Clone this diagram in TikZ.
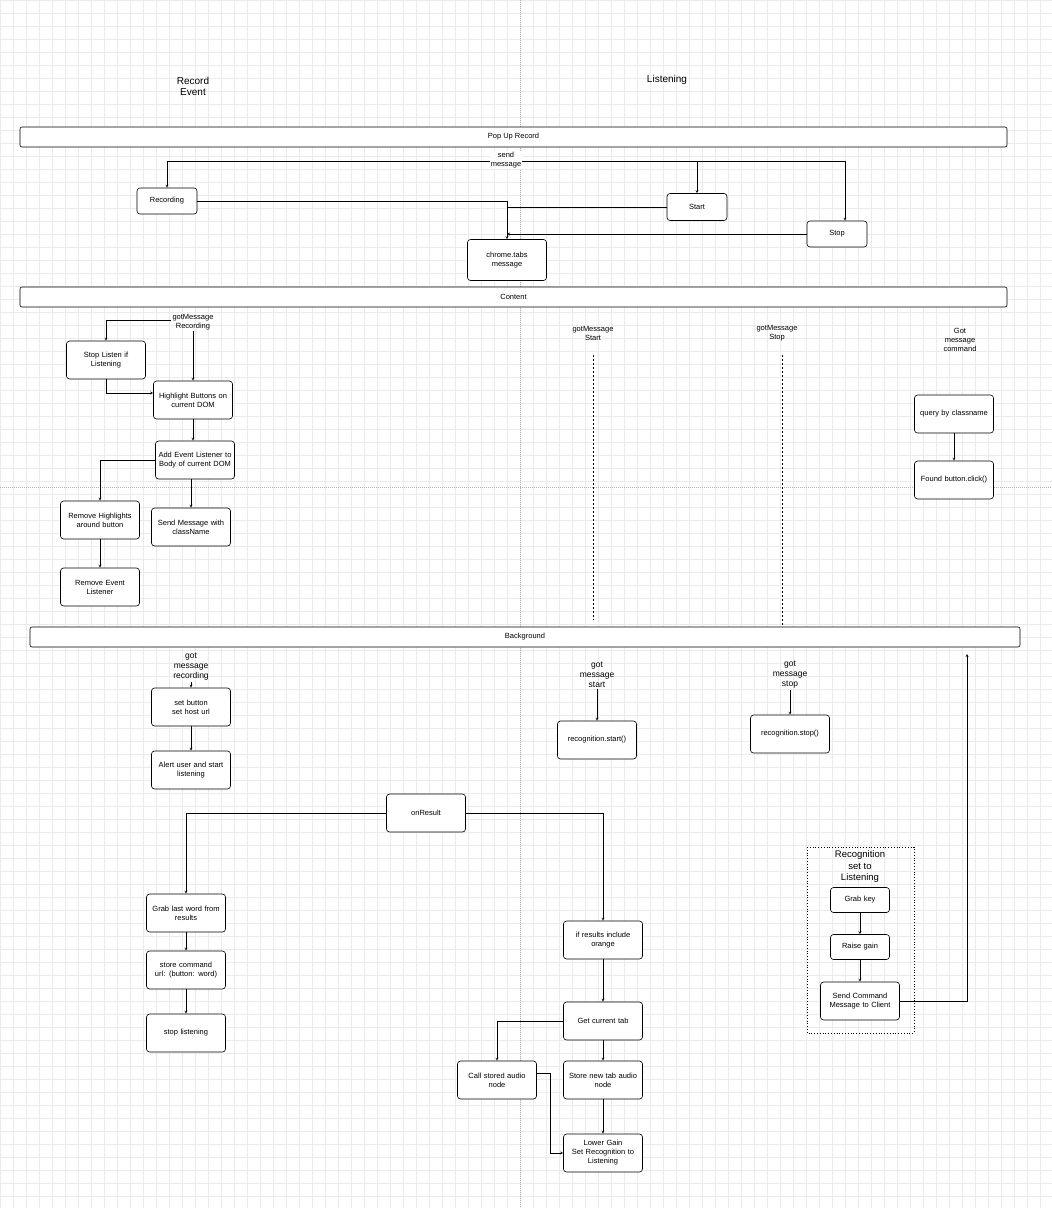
\documentclass[tikz,border=0pt]{standalone}
\usepackage{fontspec}
\setmainfont{Liberation Sans}
\usetikzlibrary{arrows}

\begin{document}
\begin{tikzpicture}[x = 1pt, y = -1pt, >=stealth, font=\fontsize{7.5}{9}\selectfont,
    box/.style = {draw, fill = white, rounded corners = 3pt, line width = 0.6pt, align = center, minimum width = 79pt, minimum height = 38pt, text width = 77pt, inner sep = 1pt},
    bar/.style = {draw, fill = white, rounded corners = 2pt, line width = 0.6pt, minimum height = 20pt, inner sep = 0pt},
    lbl/.style = {align = center, inner sep = 1pt}]
  \useasboundingbox (0,0) rectangle (1052,1208);
  \fill[white] (0,0) rectangle (1052,1208);
  \draw[black!8, step = 13pt] (0,0) grid (1052,1208);
  \draw[black!30, dashed, dash pattern = on 1pt off 1pt] (520,0) -- (520,1208) (0,487) -- (1052,487);

  \node[lbl, font=\fontsize{10}{11}\selectfont] (rec) at (193,86) {Record\\Event};
  \node[lbl, font=\fontsize{10}{11}\selectfont] (lis) at (667,80) {Listening};

  % pop up
  \node[bar, minimum width = 987pt] (popup) at (513.5,137) {Pop Up Record};
  \node[box, minimum width = 60pt, text width = 58pt, minimum height = 26pt] (recording) at (167,201) {Recording};
  \node[box, minimum width = 60pt, text width = 58pt, minimum height = 27pt] (start) at (697,207) {Start};
  \node[box, minimum width = 60pt, text width = 58pt, minimum height = 26pt] (stop) at (837,234) {Stop};
  \node[box, minimum height = 41pt] (tabs) at (507,260) {chrome.tabs\\message};
  \node[lbl, fill = white] (send) at (506,160) {send\\message};
  \coordinate (sl) at (167,161);
  \coordinate (sr) at (845,161);
  \draw[->] (send.west |- sl) -- (sl) -- (recording.north);
  \draw[->] (send.east |- sl) -| (start.north);
  \draw[->] (sr) -- (sr |- stop.north);
  \draw (send.east |- sl) -- (sr);
  \draw[->] (recording.east) -| (tabs.north);
  \draw (start.west) -- (tabs.north |- start.west);
  \draw[->] (stop.west) -- (tabs.north |- stop.west);

  % content
  \node[bar, minimum width = 987pt] (content) at (513.5,297) {Content};
  \node[lbl] (gmrec) at (193,322) {gotMessage\\Recording};
  \node[box] (stoplis) at (106,360) {Stop Listen if\\Listening};
  \node[box] (highlight) at (193,400) {Highlight Buttons on\\current DOM};
  \node[box] (addlis) at (195,460) {Add Event Listener to\\Body of current DOM};
  \node[box] (remhigh) at (100,520) {Remove Highlights\\around button};
  \node[box] (sendcls) at (191,527) {Send Message with\\className};
  \node[box] (remlis) at (100,587) {Remove Event\\Listener};
  \draw[->] (gmrec.west |- 0,320) -| (stoplis.north);
  \draw[->] (gmrec.south) -- (highlight.north);
  \draw[->] (stoplis.south) |- (highlight.west |- 0,393);
  \draw[->] (highlight.south) -- (highlight.south |- addlis.north);
  \draw[->] (addlis.west) -| (remhigh.north);
  \draw[->] (sendcls.north |- addlis.south) -- (sendcls.north);
  \draw[->] (remhigh.south) -- (remlis.north);
  \node[lbl] (gmstart) at (593,333) {gotMessage\\Start};
  \node[lbl] (gmstop) at (777,333) {gotMessage\\Stop};
  \coordinate (dstart) at (593,620);
  \coordinate (dstop) at (782,625);
  \draw[dashed, dash pattern = on 2pt off 2pt] (gmstart.south |- 0,355) -- (dstart);
  \draw[dashed, dash pattern = on 2pt off 2pt] (dstop |- 0,355) -- (dstop);
  \node[lbl] (gmcmd) at (960,340) {Got\\message\\command};
  \node[box] (query) at (954,414) {query by classname};
  \node[box] (found) at (954,480) {Found button.click()};
  \draw[->] (query.south) -- (found.north);

  % background
  \node[bar, minimum width = 990pt] (backgr) at (525,637) {Background};
  \node[lbl, font=\fontsize{8.5}{10}\selectfont] (bgrec) at (191,667) {got\\message\\recording};
  \node[box, minimum height = 38pt] (setbtn) at (191,707) {set button\\set host url};
  \node[box] (alert) at (191,770) {Alert user and start\\listening};
  \node[box] (onres) at (426,813) {onResult};
  \node[box] (grab) at (186,913) {Grab last word from\\results};
  \node[box] (store) at (186,970) {store command\\url: (button: word)};
  \node[box] (stoplisn) at (186,1033) {stop listening};
  \draw[->] (bgrec.south) -- (setbtn.north);
  \draw[->] (setbtn.south) -- (alert.north);
  \draw[->] (onres.west) -| (grab.north);
  \draw[->] (grab.south) -- (store.north);
  \draw[->] (store.south) -- (stoplisn.north);

  \node[lbl, font=\fontsize{8.5}{10}\selectfont] (bgstart) at (597,675) {got\\message\\start};
  \node[lbl, font=\fontsize{8.5}{10}\selectfont] (bgstop) at (790,675) {got\\message\\stop};
  \node[box] (rstart) at (597,740) {recognition.start()};
  \node[box] (rstop) at (790,734) {recognition.stop()};
  \draw[->] (bgstart.south) -- (rstart.north);
  \draw[->] (bgstop.south) -- (rstop.north);

  \node[box] (ifres) at (603,940) {if results include\\orange};
  \node[box] (curtab) at (603,1021) {Get current tab};
  \node[box] (callnode) at (497,1080) {Call stored audio\\node};
  \node[box] (storenode) at (603,1080) {Store new tab audio\\node};
  \node[box] (lower) at (603,1153) {Lower Gain\\Set Recognition to\\Listening};
  \draw[->] (onres.east) -| (ifres.north);
  \draw[->] (ifres.south) -- (curtab.north);
  \draw[->] (curtab.west) -| (callnode.north);
  \draw[->] (curtab.south) -- (storenode.north);
  \draw[->] (storenode.south) -- (lower.north);
  \draw[->] (callnode.east |- 0,1073) -| (550,1153) -- (lower.west);

  \draw[dotted, thick] (807,847) rectangle (914,1033);
  \node[lbl, font=\fontsize{9.5}{11.5}\selectfont] (recset) at (860,867) {Recognition\\set to\\Listening};
  \node[box, minimum width = 59pt, text width = 57pt, minimum height = 25pt] (grabkey) at (860,900) {Grab key};
  \node[box, minimum width = 59pt, text width = 57pt, minimum height = 25pt] (raise) at (860,947) {Raise gain};
  \node[box] (sendcmd) at (860,1001) {Send Command\\Message to Client};
  \draw[->] (grabkey.south) -- (raise.north);
  \draw[->] (raise.south) -- (sendcmd.north);
  \coordinate (bgin) at (967,654);
  \draw[->] (sendcmd.east) -| (bgin);
\end{tikzpicture}
\end{document}
